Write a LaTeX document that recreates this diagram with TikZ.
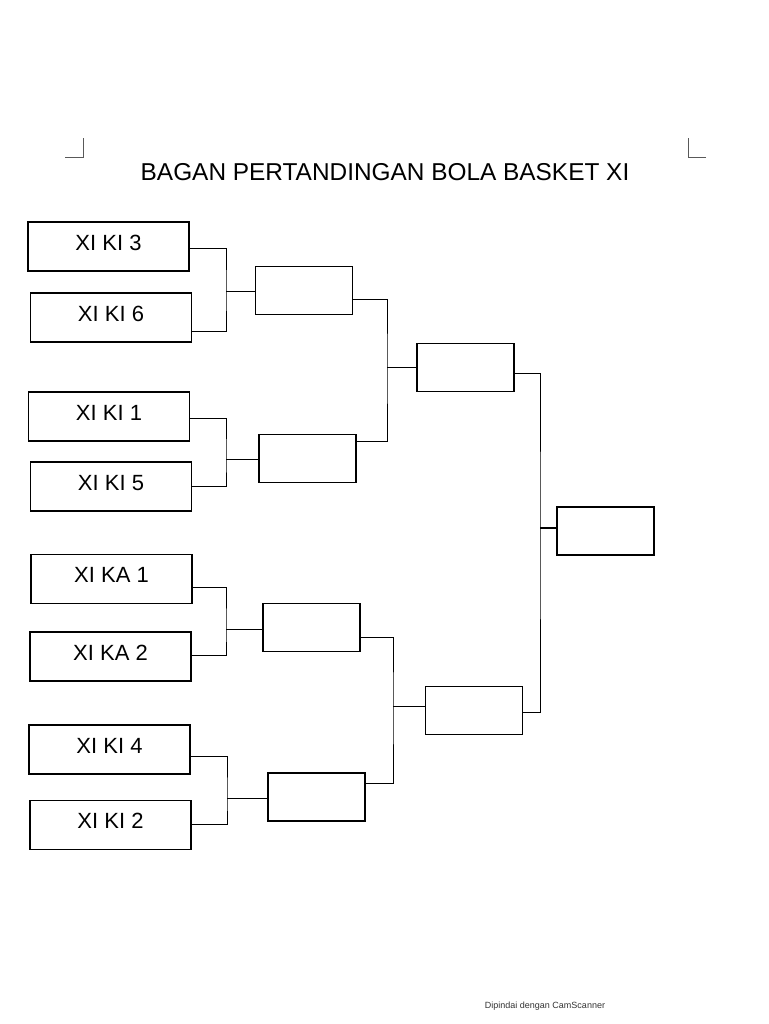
\documentclass[tikz,border=0pt]{standalone}
\usepackage{fontspec}
\setmainfont{Liberation Sans}
\usepackage{tikz}
\usetikzlibrary{calc}

\begin{document}
\begin{tikzpicture}[x=1pt, y=-1pt,
    team/.style={draw, rectangle, line width=1.3pt, minimum width=161pt, minimum height=49pt, inner sep=0pt, text height=16pt, text depth=9pt, font=\fontsize{22}{22}\selectfont},
    slot/.style={draw, rectangle, line width=1.3pt, minimum width=97pt, minimum height=48pt, inner sep=0pt},
    link/.style={line width=1pt}]
    \useasboundingbox (0,0) rectangle (768,1024);

    % Title and corner marks
    \node[font=\fontsize{24.4}{24.4}\selectfont] (title) at (385,172) {BAGAN PERTANDINGAN BOLA BASKET XI};
    \draw[gray!70!black, line width=0.8pt] (65,157) -- (83,157) -- (83,138);
    \draw[gray!70!black, line width=0.8pt] (706,157) -- (688,157) -- (688,138);

    % Round 1
    \node[team] (ki3) at (108.5,246.5) {XI KI 3};
    \node[team] (ki6) at (111,317.5) {XI KI 6};
    \node[team] (ki1) at (109,416.5) {XI KI 1};
    \node[team] (ki5) at (111,486.5) {XI KI 5};
    \node[team] (ka1) at (111.5,579) {XI KA 1};
    \node[team] (ka2) at (110.5,656.5) {XI KA 2};
    \node[team] (ki4) at (109.5,749.5) {XI KI 4};
    \node[team] (ki2) at (110.5,825) {XI KI 2};

    % Round 2
    \node[slot] (r1) at (304,290.5) {};
    \node[slot] (r2) at (307.5,458.5) {};
    \node[slot] (r3) at (311.5,627.5) {};
    \node[slot] (r4) at (316.5,797) {};

    % Semifinal and final
    \node[slot] (s1) at (465.5,367.5) {};
    \node[slot] (s2) at (474,710.5) {};
    \node[slot] (fin) at (605.5,531) {};

    % Joints
    \coordinate (j1) at (226,291);
    \coordinate (j2) at (226,459);
    \coordinate (j3) at (226,629);
    \coordinate (j4) at (227,798);
    \coordinate (k1) at (387,367);
    \coordinate (k2) at (393,706);
    \coordinate (m) at (540,528);

    % Brackets round 1
    \draw[link] ([yshift=-1.5pt]ki3.east) -| (j1) |- ([yshift=-13.5pt]ki6.east);
    \draw[link] (j1) -- (j1 -| r1.west);
    \draw[link] ([yshift=-1.5pt]ki1.east) -| (j2) |- ([yshift=0.5pt]ki5.east);
    \draw[link] (j2) -- (j2 -| r2.west);
    \draw[link] ([yshift=-8pt]ka1.east) -| (j3) |- ([yshift=1.5pt]ka2.east);
    \draw[link] (j3) -- (j3 -| r3.west);
    \draw[link] ([yshift=-6.5pt]ki4.east) -| (j4) |- ([yshift=1pt]ki2.east);
    \draw[link] (j4) -- (j4 -| r4.west);

    % Brackets round 2
    \draw[link] ([yshift=-8.5pt]r1.east) -| (k1) |- ([yshift=17.5pt]r2.east);
    \draw[link] (k1) -- (k1 -| s1.west);
    \draw[link] ([yshift=-9.5pt]r3.east) -| (k2) |- ([yshift=14pt]r4.east);
    \draw[link] (k2) -- (k2 -| s2.west);

    % Final bracket
    \draw[link] ([yshift=-5.5pt]s1.east) -| (m) |- ([yshift=-1.5pt]s2.east);
    \draw[line width=2pt] (m) -- (m -| fin.west);

    % Footer
    \node[font=\fontsize{9}{9}\selectfont, text=black!80] (scan) at (545,1006) {Dipindai dengan CamScanner};
\end{tikzpicture}
\end{document}
